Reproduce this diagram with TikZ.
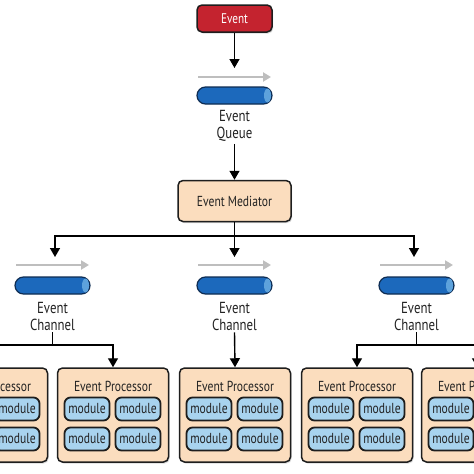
\documentclass[tikz,border=0pt]{standalone}
\usepackage{fontspec}
\setmainfont{PT Sans}[FakeStretch=0.8]
\usetikzlibrary{arrows.meta,shadows}
\definecolor{boxline}{HTML}{1E1E1E}
\definecolor{evred}{HTML}{C4232F}
\definecolor{peach}{HTML}{FBDDBE}
\definecolor{modblue}{HTML}{A8D3EE}
\definecolor{pipeblue}{HTML}{1C69BC}
\definecolor{pipeedge}{HTML}{0E2C52}
\definecolor{capblue}{HTML}{5DA2DC}
\definecolor{lightgray}{HTML}{BEBEBE}
\definecolor{txt}{HTML}{222222}
\begin{document}
\begin{tikzpicture}[x=1pt,y=-1pt,
  shadowed/.style={drop shadow={shadow xshift=1.2pt,shadow yshift=-1.5pt,opacity=0.3}},
  evbox/.style={draw=boxline,line width=1.5pt,rounded corners=5pt,fill=evred,text=white,
    minimum width=75pt,minimum height=27pt,font=\fontsize{14}{16}\selectfont,shadowed},
  medbox/.style={draw=boxline,line width=1.5pt,rounded corners=5pt,fill=peach,text=txt,
    minimum width=113pt,minimum height=41pt,font=\fontsize{14.5}{16}\selectfont,shadowed},
  proc/.style={draw=boxline,line width=1.5pt,rounded corners=5pt,fill=peach,
    minimum width=111pt,minimum height=94pt,shadowed},
  ptitle/.style={text=txt,font=\fontsize{14.5}{16}\selectfont,inner sep=0pt},
  mod/.style={draw=boxline,line width=1.8pt,rounded corners=6pt,fill=modblue,text=txt,
    minimum width=45pt,minimum height=23pt,inner sep=0pt,font=\fontsize{14.5}{16}\selectfont},
  pipe/.style={draw=pipeedge,line width=1.2pt,rounded corners=8.5pt,fill=pipeblue,
    minimum width=75pt,minimum height=17pt,inner sep=0pt},
  lbl/.style={align=center,text=txt,font=\fontsize{16}{17}\selectfont,inner sep=2pt},
  arr/.style={draw=black,line width=1.4pt,-{Triangle[width=10pt,length=9pt]}},
  conn/.style={draw=black,line width=1.4pt},
  grayarr/.style={draw=lightgray,line width=2pt,-{Triangle[width=9pt,length=8pt]}}
]
\useasboundingbox (0,0) rectangle (474,474);
\fill[white] (0,0) rectangle (474,474);
\clip (0,0) rectangle (474,474);

% top event and queue
\node[evbox] (event) at (234.5,18.5) {Event};
\coordinate (qin) at (234.5,68);
\draw[arr] (event.south) -- (qin);
\draw[grayarr] (198,77) -- (271,77);
\node[pipe] (queue) at (234.5,95.5) {};
\fill[capblue] (267.5,95.5) ellipse [x radius=3.5pt, y radius=7pt];
\node[lbl] (queuel) at (234.5,126) {Event\\Queue};

% mediator
\node[medbox] (med) at (234.5,201) {Event Mediator};
\draw[arr] (queuel.south) -- (med.north);

% split to channels
\coordinate (split) at (234.5,236);
\coordinate (a1) at (55,257);
\coordinate (a2) at (234.5,257);
\coordinate (a3) at (414,257);
\draw[conn] (med.south) -- (split);
\draw[arr] (split) -| (a1);
\draw[arr] (split) -- (a2);
\draw[arr] (split) -| (a3);

% channels
\foreach \n/\x in {c1/52.5,c2/234.5,c3/416.5}{
  \draw[grayarr] (\x-36.5,265) -- (\x+36.5,265);
  \node[pipe] (\n) at (\x,285.5) {};
  \fill[capblue] (\x+33,285.5) ellipse [x radius=3.5pt, y radius=7pt];
  \node[lbl] (\n l) at (\x,316) {Event\\Channel};
}

% processors
\foreach \n/\x in {p1/-8,p2/113,p3/235,p4/357,p5/477}{
  \node[proc] (\n) at (\x,415) {};
  \node[ptitle] (\n-t) at (\x,386) {Event Processor};
  \node[mod] (\n-a) at (\x-26,409) {module};
  \node[mod] (\n-b) at (\x+25,409) {module};
  \node[mod] (\n-c) at (\x-26,439) {module};
  \node[mod] (\n-d) at (\x+25,439) {module};
}

% channel to processors
\coordinate (j1) at (52.5,345);
\coordinate (j3) at (416.5,345);
\draw[conn] (c1l.south) -- (j1);
\draw[arr] (j1) -| (p1.north);
\draw[arr] (j1) -| (p2.north);
\draw[arr] (c2l.south) -- (p3.north);
\draw[conn] (c3l.south) -- (j3);
\draw[arr] (j3) -| (p4.north);
\draw[arr] (j3) -| (p5.north);
\end{tikzpicture}
\end{document}
